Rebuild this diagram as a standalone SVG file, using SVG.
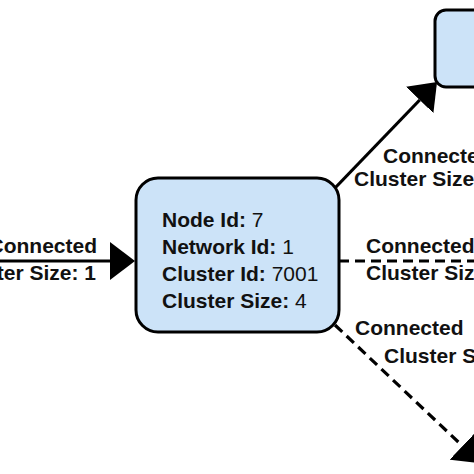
<svg xmlns="http://www.w3.org/2000/svg" width="474" height="474" viewBox="0 0 474 474">
<style>
.node{fill:#cce3f8;stroke:#000;stroke-width:3}
.edge{stroke:#000;stroke-width:3.2;fill:none}
.dash{stroke-dasharray:10 6}
text{font-family:"Liberation Sans",Arial,sans-serif;fill:#111}
.nt{font-size:21px}
.b{font-weight:bold}
.el{font-size:21px;font-weight:bold}
</style>
<defs>
<marker id="arr" viewBox="0 0 25 38" refX="0" refY="19" markerWidth="25" markerHeight="38" markerUnits="userSpaceOnUse" orient="auto">
<path d="M0,0 L25,19 L0,38 Z" fill="#000"/>
</marker>
</defs>
<rect width="474" height="474" fill="#fff"/>
<g id="connectors">
<line class="edge" x1="-5" y1="261" x2="110" y2="261" marker-end="url(#arr)"/>
<line class="edge" x1="335" y1="188" x2="419.7" y2="100" marker-end="url(#arr)"/>
<line class="edge dash" x1="339" y1="261" x2="480" y2="261"/>
<line class="edge dash" x1="335" y1="325" x2="462.5" y2="446" marker-end="url(#arr)"/>
<text class="el" x="97" y="253" text-anchor="end">Connected</text>
<text class="el" x="96" y="280" text-anchor="end">Cluster Size: 1</text>
<text class="el" x="383" y="163">Connected</text>
<text class="el" x="354" y="186">Cluster Size: 2</text>
<text class="el" x="366" y="253">Connected</text>
<text class="el" x="366" y="280">Cluster Size: 1</text>
<text class="el" x="355" y="335">Connected</text>
<text class="el" x="384" y="363">Cluster Size: 1</text>
</g>
<g id="node-top">
<rect class="node" x="435" y="10" width="70" height="77" rx="11"/>
</g>
<g id="node-7">
<rect class="node" x="136" y="178" width="203" height="154" rx="22"/>
<text class="nt" x="162" y="227"><tspan class="b">Node Id:</tspan> 7</text>
<text class="nt" x="162" y="254"><tspan class="b">Network Id:</tspan> 1</text>
<text class="nt" x="162" y="281"><tspan class="b">Cluster Id:</tspan> 7001</text>
<text class="nt" x="162" y="308"><tspan class="b">Cluster Size:</tspan> 4</text>
</g>
</svg>
